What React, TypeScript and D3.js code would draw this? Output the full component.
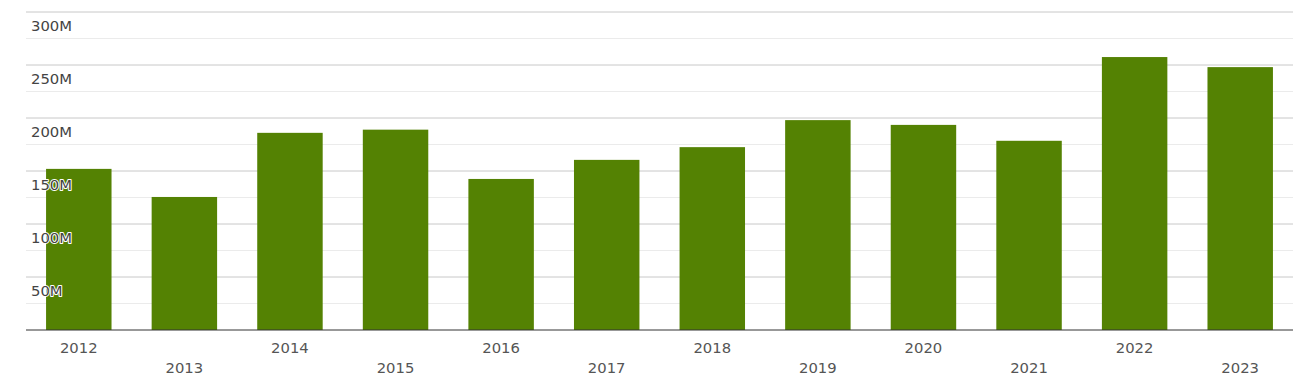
import React from "react";
import * as d3 from "d3";

const years = ["2012","2013","2014","2015","2016","2017","2018","2019","2020","2021","2022","2023"];
const values = [152, 125.5, 186, 189, 142.5, 160.5, 172.5, 198, 193.5, 178.5, 257.5, 248];
const yTicks = [50, 100, 150, 200, 250, 300];
const minorTicks = [25, 75, 125, 175, 225, 275];

export default function App() {
  const W = 1293, H = 384;
  const left = 26, right = 1293, top = 12, bottom = 330;
  const x = d3.scaleBand<string>().domain(years).range([left, right]).paddingInner(0.38).paddingOuter(0.19);
  const y = d3.scaleLinear().domain([0, 300]).range([bottom, top]);
  const font = "'DejaVu Sans', sans-serif";
  return (
    <svg width={W} height={H} style={{ position: "absolute", left: 0, top: 0 }}>
      {minorTicks.map(t => (
        <line key={"m"+t} x1={left} x2={right} y1={y(t)} y2={y(t)} stroke="#ebebeb" strokeWidth={1} />
      ))}
      {yTicks.map(t => (
        <line key={"g"+t} x1={left} x2={right} y1={y(t)} y2={y(t)} stroke="#c8c8c8" strokeWidth={1} />
      ))}
      {years.map((yr, i) => (
        <rect key={yr} x={x(yr)} y={y(values[i])} width={x.bandwidth()} height={bottom - y(values[i])} fill="#548203" />
      ))}
      <line x1={left} x2={right} y1={bottom} y2={bottom} stroke="#333" strokeWidth={1} />
      {yTicks.map(t => (
        <text key={"l"+t} x={31} y={y(t) + 19} fontFamily={font} fontSize={14.8} fill="#444"
          stroke="#fff" strokeWidth={2} paintOrder="stroke" strokeLinejoin="round">{t}M</text>
      ))}
      {years.map((yr, i) => (
        <text key={"x"+yr} x={(x(yr) as number) + x.bandwidth() / 2} y={i % 2 === 0 ? 353 : 373}
          textAnchor="middle" fontFamily={font} fontSize={14.8} fill="#555">{yr}</text>
      ))}
    </svg>
  );
}
